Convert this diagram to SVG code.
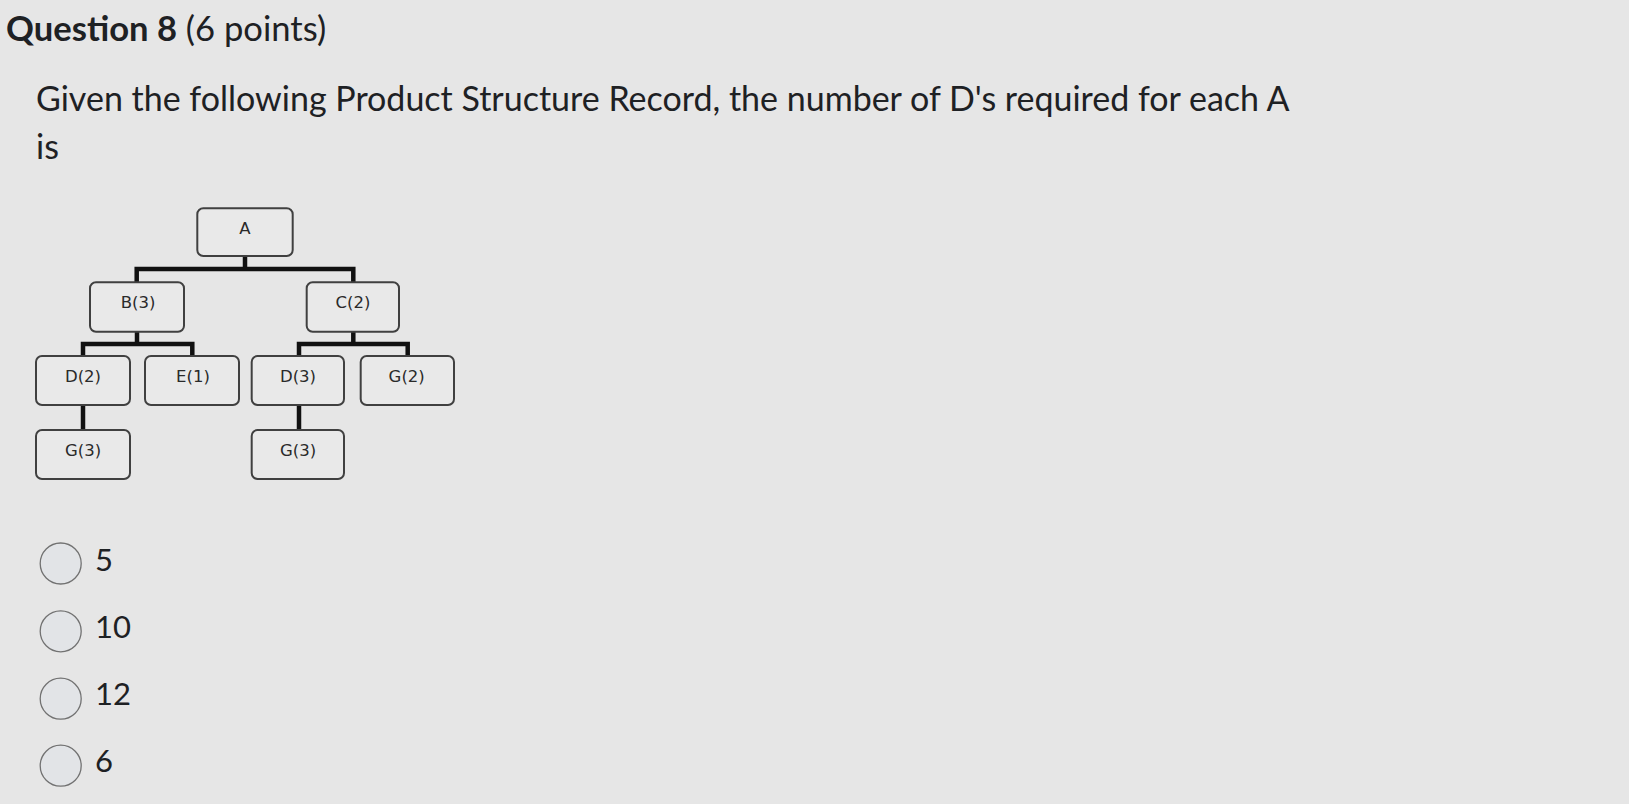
<svg xmlns="http://www.w3.org/2000/svg" width="1629" height="804" viewBox="0 0 1629 804">
<style>
.q{font-family:Lato,"Noto Sans",sans-serif;fill:#1e2124}
.box{fill:#e9e9e9;stroke:#404040;stroke-width:2}
.lbl{font-family:"DejaVu Sans",Verdana,sans-serif;font-size:16.5px;fill:#2a2a2a;text-anchor:middle}
.ln{fill:none;stroke:#111;stroke-width:4.5;stroke-linecap:butt;stroke-linejoin:miter}
.rad{fill:#e2e4e7;stroke:#727272;stroke-width:1.3}
</style>
<rect width="1629" height="804" fill="#e6e6e6"/>
<text class="q" x="6" y="40.7" font-size="34.6"><tspan font-weight="700">Question 8</tspan> (6 points)</text>
<text class="q" x="36" y="110.8" font-size="34">Given the following Product Structure Record, the number of D's required for each A</text>
<text class="q" x="36" y="159" font-size="34">is</text>

<g id="connectors">
<path class="ln" d="M245,256 V269"/>
<path class="ln" d="M136.7,282 V269 H353.3 V282"/>
<path class="ln" d="M137,331.7 V344"/>
<path class="ln" d="M83,356 V344 H192.3 V356"/>
<path class="ln" d="M353.3,331.7 V344"/>
<path class="ln" d="M299,356 V344 H407.7 V356"/>
<path class="ln" d="M83,405 V430"/>
<path class="ln" d="M299,405 V430"/>
</g>

<g id="node-A"><rect class="box" x="197.3" y="208.3" width="95.4" height="47.7" rx="6"/><text class="lbl" x="245" y="233.5">A</text></g>
<g id="node-B"><rect class="box" x="90" y="282.3" width="94" height="49.4" rx="6"/><text class="lbl" x="138" y="308">B(3)</text></g>
<g id="node-C"><rect class="box" x="306.7" y="282.3" width="92.3" height="49.4" rx="6"/><text class="lbl" x="353" y="308">C(2)</text></g>
<g id="node-D2"><rect class="box" x="36" y="356" width="94" height="49" rx="6"/><text class="lbl" x="83" y="381.7">D(2)</text></g>
<g id="node-E1"><rect class="box" x="145" y="356" width="94" height="49" rx="6"/><text class="lbl" x="193" y="381.7">E(1)</text></g>
<g id="node-D3"><rect class="box" x="251.7" y="356" width="92.3" height="49" rx="6"/><text class="lbl" x="298" y="381.7">D(3)</text></g>
<g id="node-G2"><rect class="box" x="360.7" y="356" width="93.3" height="49" rx="6"/><text class="lbl" x="406.7" y="381.7">G(2)</text></g>
<g id="node-G3a"><rect class="box" x="36" y="430" width="94" height="49" rx="6"/><text class="lbl" x="83" y="456">G(3)</text></g>
<g id="node-G3b"><rect class="box" x="251.7" y="430" width="92.3" height="49" rx="6"/><text class="lbl" x="298" y="456">G(3)</text></g>

<g id="options">
<circle class="rad" cx="60.7" cy="563.5" r="20.5"/><text class="q" x="95" y="570.7" font-size="31">5</text>
<circle class="rad" cx="60.7" cy="631.3" r="20.5"/><text class="q" x="95" y="638.3" font-size="31">10</text>
<circle class="rad" cx="60.7" cy="698.7" r="20.5"/><text class="q" x="95" y="705.3" font-size="31">12</text>
<circle class="rad" cx="60.7" cy="765.7" r="20.5"/><text class="q" x="95" y="772" font-size="31">6</text>
</g>
</svg>
